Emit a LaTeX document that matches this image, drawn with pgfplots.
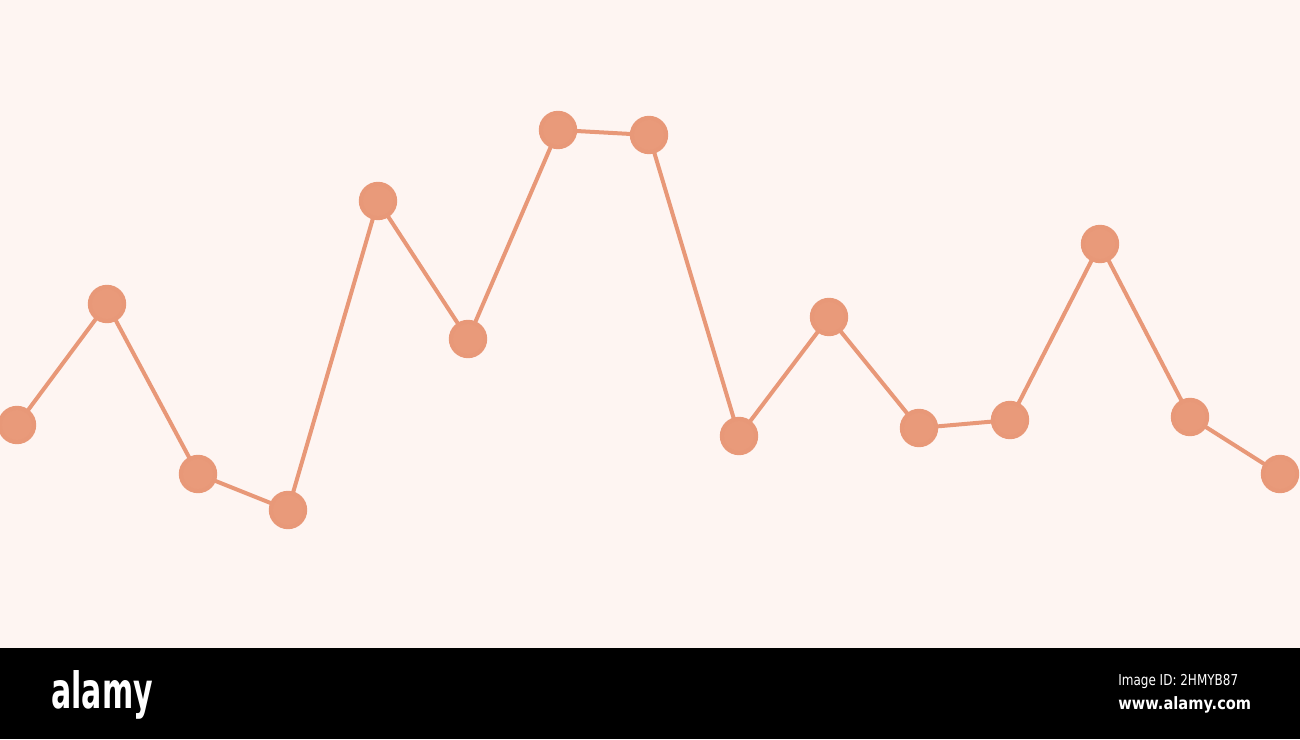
\documentclass[border=0pt]{standalone}
\usepackage{pgfplots}
\pgfplotsset{compat=1.18}
\usepackage{fontspec}
\setmainfont{DejaVu Sans}
\definecolor{bg}{RGB}{254,245,242}
\definecolor{dot}{RGB}{233,154,122}
\definecolor{seg}{RGB}{232,152,120}
\begin{document}
\begin{tikzpicture}[x=0.5pt,y=0.5pt]
\useasboundingbox (0,0) rectangle (1300,739);
\fill[black] (0,0) rectangle (1300,91);
\fill[bg] (0,91) rectangle (1300,739);
\begin{axis}[
  at={(0,0)}, anchor=south west,
  scale only axis,
  width=650pt, height=369.5pt,
  xmin=0, xmax=1300, ymin=0, ymax=739,
  hide axis,
  clip=false,
]
\addplot[seg, line width=2pt, mark=*, mark size=8.6pt,
  mark options={fill=dot, draw=none}] coordinates {
  (17,314) (107,435) (198,265) (288,229) (378,538)
  (468,400) (558,609) (649,604) (739,303) (829,422)
  (919,311) (1010,319) (1100,495) (1190,322) (1280,265)
};
\end{axis}
\node[anchor=west, text=white, font=\bfseries\fontsize{25pt}{25pt}\selectfont,
  xscale=0.6, inner sep=0] at (51,44) {alamy};
\node[anchor=west, text=white, font=\fontsize{7.5pt}{7.5pt}\selectfont,
  xscale=0.8, inner sep=0] at (1118,58) {Image ID: 2HMYB87};
\node[anchor=west, text=white, font=\bfseries\fontsize{8.5pt}{8.5pt}\selectfont,
  xscale=0.86, inner sep=0] at (1118,34) {www.alamy.com};
\end{tikzpicture}
\end{document}
